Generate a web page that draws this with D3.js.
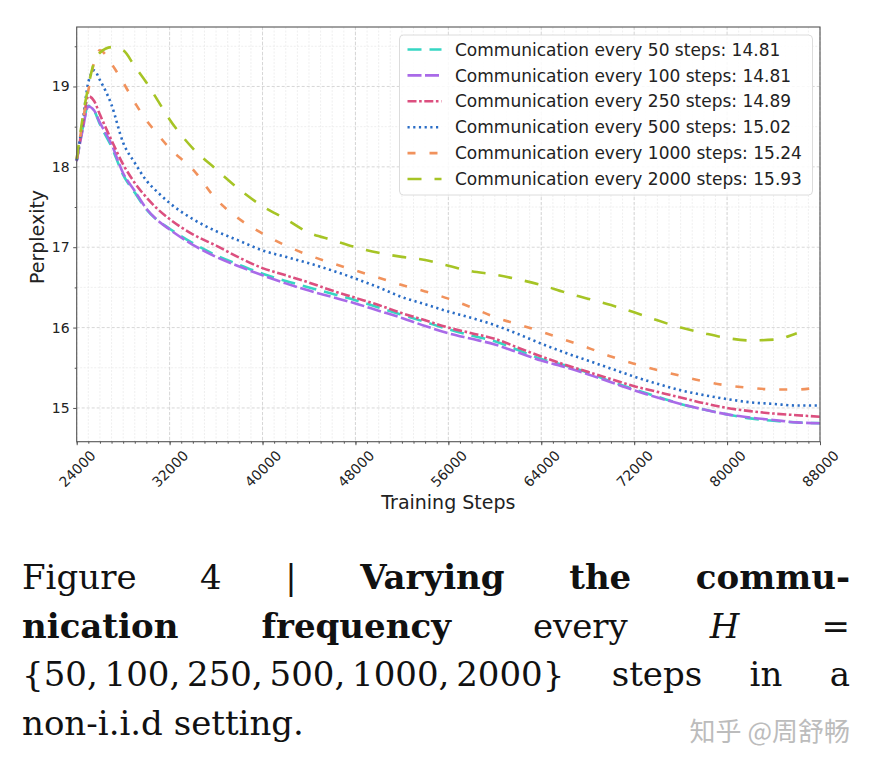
<!DOCTYPE html>
<html lang="en">

<head>
  <meta charset="UTF-8" />
  <title>Perplexity vs Training Steps</title>
  <script src="https://d3js.org/d3.v7.min.js"></script>
  <style>
    body {
      margin: 0;
      background-color: #ffffff;
      width: 872px;
      height: 766px;
      overflow: hidden;
      position: relative;
    }

    #chart {
      position: absolute;
      left: 0;
      top: 0;
    }

    .caption {
      position: absolute;
      left: 22px;
      top: 553px;
      width: 828px;
      font-family: "DejaVu Serif", serif;
      font-size: 34px;
      line-height: 48.6px;
      color: #111;
    }

    .caption .line {
      text-align: justify;
      text-align-last: justify;
      white-space: nowrap;
    }

    .caption .last {
      text-align: left;
      text-align-last: left;
    }

    .caption b {
      font-weight: bold;
    }

    .set {
      display: inline-block;
      word-spacing: -4px;
    }

    .watermark {
      position: absolute;
      right: 22px;
      top: 711px;
      font-family: "Noto Sans CJK SC", sans-serif;
      font-size: 26px;
      color: #bcbcbc;
    }

    .axis text {
      font-family: "DejaVu Sans", sans-serif;
      font-size: 14px;
      fill: #222;
    }

    .axis path,
    .axis line {
      stroke: #555;
    }
  </style>
</head>

<body>

  <svg id="chart" width="872" height="540"></svg>

  <div class="caption">
    <div class="line">Figure 4 | <b>Varying the commu-</b></div>
    <div class="line"><b>nication frequency</b> every <i>H</i> =</div>
    <div class="line"><span class="set">{50, 100, 250, 500, 1000, 2000}</span> steps in a</div>
    <div class="line last">non-i.i.d setting.</div>
  </div>
  <div class="watermark">知乎 @周舒畅</div>

  <script>
    // ---- data ----
    const steps = [24000, 24500, 25000, 25500, 26000, 27000, 28000, 29000, 30000, 31000,
      32000, 34000, 36000, 38000, 40000, 42000, 44000, 46000, 48000, 50000,
      52000, 54000, 56000, 58000, 60000, 62000, 64000, 66000, 68000, 70000,
      72000, 74000, 76000, 78000, 80000, 82000, 84000, 86000, 88000];

    const every50 = [18.08, 18.47, 18.76, 18.70, 18.53, 18.25, 17.90, 17.68, 17.47, 17.33,
      17.23, 17.05, 16.90, 16.78, 16.67, 16.58, 16.50, 16.42, 16.34, 16.25,
      16.16, 16.07, 15.98, 15.90, 15.83, 15.72, 15.61, 15.53, 15.44, 15.33,
      15.23, 15.14, 15.05, 14.98, 14.92, 14.87, 14.84, 14.82, 14.81];

    const every100 = [18.07, 18.45, 18.75, 18.70, 18.55, 18.28, 17.92, 17.70, 17.48, 17.33,
      17.22, 17.03, 16.88, 16.76, 16.65, 16.55, 16.46, 16.38, 16.30, 16.21,
      16.12, 16.02, 15.93, 15.86, 15.79, 15.69, 15.59, 15.51, 15.42, 15.32,
      15.22, 15.13, 15.05, 14.98, 14.92, 14.88, 14.85, 14.82, 14.81];

    const every250 = [18.08, 18.50, 18.88, 18.82, 18.65, 18.33, 18.03, 17.80, 17.62, 17.47,
      17.35, 17.16, 17.02, 16.87, 16.74, 16.65, 16.56, 16.46, 16.37, 16.28,
      16.18, 16.09, 16.00, 15.93, 15.86, 15.75, 15.64, 15.54, 15.45, 15.36,
      15.27, 15.20, 15.13, 15.06, 15.00, 14.96, 14.93, 14.91, 14.89];

    const every500 = [18.08, 18.55, 19.05, 19.20, 19.08, 18.77, 18.30, 18.05, 17.83, 17.68,
      17.55, 17.35, 17.20, 17.08, 16.96, 16.88, 16.80, 16.71, 16.61, 16.50,
      16.38, 16.29, 16.20, 16.12, 16.03, 15.92, 15.80, 15.69, 15.59, 15.49,
      15.39, 15.30, 15.22, 15.16, 15.11, 15.07, 15.05, 15.03, 15.03];

    const every1000 = [18.10, 18.55, 18.95, 19.30, 19.45, 19.28, 19.05, 18.80, 18.58, 18.40,
      18.23, 17.97, 17.60, 17.35, 17.17, 17.02, 16.90, 16.80, 16.71, 16.62,
      16.53, 16.45, 16.36, 16.25, 16.13, 16.04, 15.95, 15.85, 15.75, 15.64,
      15.55, 15.47, 15.40, 15.33, 15.28, 15.25, 15.23, 15.23, 15.26];

    const every2000 = [18.10, 18.60, 19.00, 19.30, 19.42, 19.49, 19.45, 19.25, 19.05, 18.82,
      18.59, 18.23, 17.97, 17.72, 17.51, 17.35, 17.18, 17.09, 17.00, 16.93,
      16.88, 16.84, 16.77, 16.70, 16.66, 16.60, 16.53, 16.44, 16.36, 16.28,
      16.19, 16.09, 16.00, 15.93, 15.87, 15.84, 15.85, 15.93, null];

    const labels = ["Communication every 50 steps: 14.81",
      "Communication every 100 steps: 14.81",
      "Communication every 250 steps: 14.89",
      "Communication every 500 steps: 15.02",
      "Communication every 1000 steps: 15.24",
      "Communication every 2000 steps: 15.93"];

    const xTicks = [24000, 32000, 40000, 48000, 56000, 64000, 72000, 80000, 88000];
    const yTicks = [15, 16, 17, 18, 19];

    const series = [every50, every100, every250, every500, every1000, every2000];
    const colors = ["#36d6c3", "#a96ae8", "#dc4f7f", "#2a6dc6", "#f1925c", "#a6c425"];
    const dashes = ["14,8", "14,3.5", "9,2.6,2.6,2.6", "2.2,3.5", "8,14", "14,13"];

    // ---- layout ----
    const svg = d3.select("#chart");
    const plot = { left: 76.7, top: 27, right: 820, bottom: 441.7 };

    const x = d3.scaleLinear().domain([24000, 88000]).range([plot.left, plot.right]);
    const y = d3.scaleLinear().domain([14.58, 19.74]).range([plot.bottom, plot.top]);

    const xMinor = d3.range(24000, 88001, 1000);
    const yMinor = d3.range(14.5, 20, 0.5).filter(v => v > 14.58 && v < 19.74 && v % 1 !== 0);

    // minor grid
    const grid = svg.append("g");
    grid.selectAll("line.xmin")
      .data(xMinor)
      .join("line")
      .attr("x1", d => x(d)).attr("x2", d => x(d))
      .attr("y1", plot.top).attr("y2", plot.bottom)
      .attr("stroke", "#ebebeb").attr("stroke-width", 0.8)
      .attr("stroke-dasharray", "2,1.5");
    grid.selectAll("line.ymin")
      .data(yMinor)
      .join("line")
      .attr("x1", plot.left).attr("x2", plot.right)
      .attr("y1", d => y(d)).attr("y2", d => y(d))
      .attr("stroke", "#ebebeb").attr("stroke-width", 0.8)
      .attr("stroke-dasharray", "2,1.5");

    // major grid
    grid.selectAll("line.xmaj")
      .data(xTicks)
      .join("line")
      .attr("x1", d => x(d)).attr("x2", d => x(d))
      .attr("y1", plot.top).attr("y2", plot.bottom)
      .attr("stroke", "#d2d2d2").attr("stroke-width", 0.9)
      .attr("stroke-dasharray", "3,2");
    grid.selectAll("line.ymaj")
      .data(yTicks)
      .join("line")
      .attr("x1", plot.left).attr("x2", plot.right)
      .attr("y1", d => y(d)).attr("y2", d => y(d))
      .attr("stroke", "#d2d2d2").attr("stroke-width", 0.9)
      .attr("stroke-dasharray", "3,2");

    // curves
    const line = d3.line()
      .defined(d => d[1] !== null)
      .x(d => x(d[0]))
      .y(d => y(d[1]))
      .curve(d3.curveMonotoneX);

    series.forEach((vals, i) => {
      svg.append("path")
        .datum(steps.map((s, j) => [s, vals[j]]))
        .attr("fill", "none")
        .attr("stroke", colors[i])
        .attr("stroke-width", 2.6)
        .attr("stroke-dasharray", dashes[i])
        .attr("d", line);
    });

    // axes
    const xAxis = svg.append("g")
      .attr("class", "axis")
      .attr("transform", `translate(0,${plot.bottom})`)
      .call(d3.axisBottom(x).tickValues(xMinor).tickSize(2).tickFormat(""));
    xAxis.select(".domain").remove();

    const xAxisMaj = svg.append("g")
      .attr("class", "axis")
      .attr("transform", `translate(0,${plot.bottom})`)
      .call(d3.axisBottom(x).tickValues(xTicks).tickSize(3.5).tickFormat(d3.format("d")));
    xAxisMaj.select(".domain").remove();
    xAxisMaj.selectAll("text")
      .attr("y", 0)
      .attr("dy", 0)
      .attr("text-anchor", "middle")
      .attr("dominant-baseline", "central")
      .attr("transform", "translate(0,27) rotate(-45)");

    const yAxisMin = svg.append("g")
      .attr("class", "axis")
      .attr("transform", `translate(${plot.left},0)`)
      .call(d3.axisLeft(y).tickValues(yMinor).tickSize(2).tickFormat(""));
    yAxisMin.select(".domain").remove();

    const yAxis = svg.append("g")
      .attr("class", "axis")
      .attr("transform", `translate(${plot.left},0)`)
      .call(d3.axisLeft(y).tickValues(yTicks).tickSize(3.5).tickPadding(3.5).tickFormat(d3.format("d")));
    yAxis.select(".domain").remove();

    // frame
    svg.append("rect")
      .attr("x", plot.left).attr("y", plot.top)
      .attr("width", plot.right - plot.left)
      .attr("height", plot.bottom - plot.top)
      .attr("fill", "none")
      .attr("stroke", "#555")
      .attr("stroke-width", 1.1);

    // axis labels
    svg.append("text")
      .attr("x", (plot.left + plot.right) / 2)
      .attr("y", 509)
      .attr("text-anchor", "middle")
      .style("font-family", "DejaVu Sans, sans-serif")
      .style("font-size", "19px")
      .style("fill", "#222")
      .text("Training Steps");

    svg.append("text")
      .attr("transform", "translate(44,237) rotate(-90)")
      .attr("text-anchor", "middle")
      .style("font-family", "DejaVu Sans, sans-serif")
      .style("font-size", "19px")
      .style("fill", "#222")
      .text("Perplexity");

    // legend
    const legend = svg.append("g").attr("transform", "translate(399.5,35)");
    legend.append("rect")
      .attr("width", 413)
      .attr("height", 160)
      .attr("rx", 4)
      .attr("fill", "#fff")
      .attr("fill-opacity", 0.85)
      .attr("stroke", "#dcdcdc");

    const rows = legend.selectAll("g.row")
      .data(labels)
      .join("g")
      .attr("class", "row")
      .attr("transform", (d, i) => `translate(0,${14.5 + i * 25.9})`);

    rows.append("line")
      .attr("x1", 8).attr("x2", 42)
      .attr("stroke", (d, i) => colors[i])
      .attr("stroke-width", 2.6)
      .attr("stroke-dasharray", (d, i) => dashes[i]);

    rows.append("text")
      .attr("x", 55.5)
      .attr("dy", "0.36em")
      .style("font-family", "DejaVu Sans, sans-serif")
      .style("font-size", "17px")
      .style("fill", "#222")
      .text(d => d);
  </script>
</body>

</html>
